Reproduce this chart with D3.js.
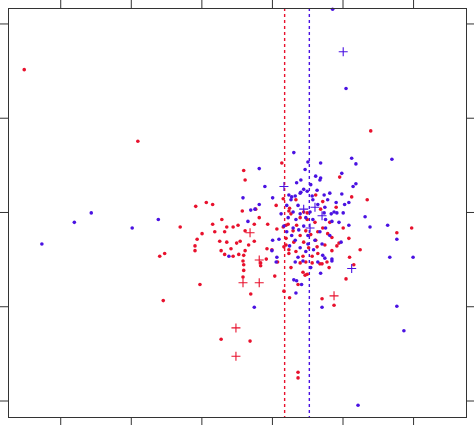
<!DOCTYPE html>
<html>
<head>
<meta charset="utf-8">
<script src="https://cdn.jsdelivr.net/npm/d3@7"></script>
<style>
html,body{margin:0;padding:0;background:#fff;}
svg{display:block;}
</style>
</head>
<body>
<svg id="chart" width="474" height="425"></svg>
<script>
// ---- data ----
const xTicks = [-3, -2, -1, 0, 1, 2];
const yTicks = [-2, -1, 0, 1, 2];

const redX = [-3.51,-1.90,-1.59,-1.52,-1.54,-1.02,-0.72,-0.31,-0.30,0.14,-0.40,-0.38,-0.93,-0.84,-1.08,-0.23,-0.42,0.06,-1.30,-0.71,
  -0.84,-0.64,-0.55,-0.48,-0.18,-0.25,-0.06,0.07,-0.99,-1.06,-0.81,-0.67,-0.38,-0.25,-0.74,-0.64,-0.50,-0.45,-0.33,-1.09,
  -1.09,-0.72,-0.58,-0.38,-0.47,-0.67,-0.07,0.00,-0.55,-0.40,-0.41,-0.16,-0.08,-0.16,-0.40,-0.40,-0.41,0.08,0.04,0.17,
  0.25,0.37,0.44,0.47,0.50,0.37,0.37,0.57,0.68,0.78,0.81,0.71,0.88,1.05,1.16,1.25,1.10,1.40,0.96,0.62,
  1.13,1.35,1.77,1.98,1.01,0.95,1.09,0.91,0.69,0.72,0.85,0.85,0.92,0.71,0.20,0.20,0.24,0.24,0.17,
  0.27,0.35,0.23,0.30,0.40,0.48,0.55,0.45,0.62,0.52,0.34,0.44,0.65,0.75,0.79,0.40,0.61,0.72,0.50,0.31,
  0.57,0.40,0.27,0.65,0.82,0.25,0.34,0.24,0.20,0.16,0.16,0.45,0.50,0.64,0.48];
const redY = [1.51,0.75,-0.47,-0.44,-0.94,-0.77,-1.35,-1.37,-0.87,0.52,0.44,0.34,0.10,0.08,0.06,0.03,0.01,0.07,-0.16,-0.08,
  -0.13,-0.16,-0.16,-0.14,-0.06,-0.13,-0.13,-0.18,-0.23,-0.29,-0.21,-0.21,-0.20,-0.31,-0.31,-0.32,-0.33,-0.31,-0.35,-0.36,
  -0.41,-0.41,-0.39,-0.41,-0.45,-0.45,-0.39,-0.40,-0.47,-0.46,-0.52,-0.54,-0.50,-0.57,-0.56,-0.62,-0.69,-0.53,-0.68,-0.84,
  -0.91,-0.77,-0.64,-0.67,-0.66,-1.70,-1.76,-0.54,-0.55,-0.53,-0.59,-0.92,-0.99,-0.71,-0.56,-0.40,-0.48,0.86,0.37,0.18,
  0.16,0.13,-0.22,-0.17,-0.17,-0.33,-0.28,0.05,0.03,0.11,-0.27,-0.41,-0.36,-0.55,-0.28,-0.35,-0.40,-0.44,-0.37,
  -0.02,-0.14,-0.13,-0.20,-0.25,-0.20,-0.24,-0.32,-0.30,-0.38,-0.42,-0.47,-0.44,-0.35,-0.23,-0.06,-0.11,-0.17,-0.01,-0.32,
  -0.47,-0.54,-0.59,-0.21,-0.11,0.04,0.13,0.01,-0.14,-0.16,0.14,0.00,-0.08,-0.37,-0.53];

const blueX = [0.86,1.05,-3.26,-2.80,-2.56,-1.98,-1.61,0.31,-0.18,-0.10,-0.41,0.01,-0.18,-0.30,-0.24,-0.34,0.01,0.10,-0.61,0.07,
  0.06,0.00,-0.25,0.31,0.35,0.42,0.34,0.69,0.44,0.85,0.71,1.77,1.87,1.22,1.13,1.19,1.70,0.69,0.51,0.69,
  0.68,0.99,1.19,1.15,0.99,0.82,0.74,1.09,1.03,0.91,1.32,1.39,1.64,1.77,1.67,2.00,0.88,0.84,0.92,0.74,
  1.01,0.95,0.85,1.09,0.45,0.50,0.41,0.98,0.85,0.75,0.72,
  0.27,0.33,0.37,0.30,0.23,0.34,0.40,0.48,0.54,0.58,0.65,0.75,0.79,0.57,0.64,0.30,0.38,0.45,0.51,0.61,
  0.68,0.76,0.82,0.33,0.25,0.40,0.48,0.59,0.65,0.55,0.37,0.28,0.21,0.41,0.55,0.62,0.47,0.58,0.33,0.51,
  0.71,0.76,0.17,0.21,0.13,0.28,0.40,0.24,0.35];
const blueY = [2.15,1.31,-0.34,-0.11,-0.01,-0.17,-0.08,0.63,0.46,0.27,0.15,0.15,0.08,0.02,0.03,-0.10,-0.30,-0.29,-0.47,-0.48,
  -0.53,-0.41,-1.01,-0.72,-0.73,-0.77,-0.86,-0.65,-0.52,-0.52,-1.01,-1.00,-1.26,-2.05,0.57,0.51,0.56,0.52,0.53,0.36,
  0.34,0.41,0.30,0.27,0.19,0.20,0.18,0.10,0.08,0.10,-0.05,-0.16,-0.14,-0.29,-0.48,-0.48,0.00,-0.02,-0.01,-0.01,
  -0.01,-0.11,-0.10,-0.14,0.24,0.22,0.21,-0.32,-0.50,-0.49,-0.46,
  0.13,0.17,0.07,0.00,-0.06,-0.08,-0.02,-0.06,0.00,-0.08,0.08,0.05,0.13,0.17,0.23,-0.17,-0.19,-0.15,-0.25,-0.30,
  -0.21,-0.17,-0.25,-0.30,-0.36,-0.38,-0.42,-0.40,-0.53,-0.59,-0.48,-0.25,0.07,0.34,0.29,0.38,0.45,0.13,-0.53,-0.34,
  -0.34,-0.08,-0.15,-0.21,-0.02,0.16,0.20,0.18,0.31];

const redPlusX = [-0.31,-0.18,-0.41,-0.18,-0.51,-0.51,0.88];
const redPlusY = [-0.22,-0.51,-0.75,-0.75,-1.23,-1.53,-0.89];
const bluePlusX = [1.01,0.17,1.13,0.45,0.61,0.71,0.54];
const bluePlusY = [1.70,0.27,-0.60,0.03,0.05,-0.04,-0.17];

const redMean = 0.18;
const blueMean = 0.53;

const redColor = "#e8112d";
const blueColor = "#4a12e2";

// ---- chart ----
const svg = d3.select("#chart");
const pLeft = 8, pRight = 466, pTop = 8, pBottom = 417;
const x = d3.scaleLinear().domain([-3.74, 2.75]).range([pLeft, pRight]);
const y = d3.scaleLinear().domain([-2.175, 2.164]).range([pBottom, pTop]);

const tickColor = "#333";
function styleAxis(g){
  g.select(".domain").remove();
  g.selectAll(".tick line").attr("stroke", tickColor);
  g.selectAll(".tick text").remove();
}
svg.append("g").attr("transform", `translate(0,${pTop})`)
  .call(d3.axisTop(x).tickValues(xTicks).tickSize(8).tickFormat(""))
  .call(styleAxis);
svg.append("g").attr("transform", `translate(0,${pBottom})`)
  .call(d3.axisBottom(x).tickValues(xTicks).tickSize(8).tickFormat(""))
  .call(styleAxis);
svg.append("g").attr("transform", `translate(${pLeft},0)`)
  .call(d3.axisLeft(y).tickValues(yTicks).tickSize(8).tickFormat(""))
  .call(styleAxis);
svg.append("g").attr("transform", `translate(${pRight},0)`)
  .call(d3.axisRight(y).tickValues(yTicks).tickSize(8).tickFormat(""))
  .call(styleAxis);

const plot = svg.append("g");

// dashed mean lines
[[redMean, redColor],[blueMean, blueColor]].forEach(([v,c]) => {
  plot.append("line")
    .attr("x1", x(v)).attr("x2", x(v))
    .attr("y1", pTop).attr("y2", pBottom)
    .attr("stroke", c).attr("stroke-width", 1.4)
    .attr("stroke-dasharray", "3,3");
});

function dots(xs, ys, color){
  plot.append("g").selectAll("circle")
    .data(xs.map((v,i)=>[v, ys[i]]))
    .join("circle")
    .attr("cx", d=>x(d[0])).attr("cy", d=>y(d[1]))
    .attr("r", 1.8).attr("fill", color);
}
dots(redX, redY, redColor);
dots(blueX, blueY, blueColor);

function pluses(xs, ys, color){
  const s = 4.5;
  plot.append("g").selectAll("path")
    .data(xs.map((v,i)=>[v, ys[i]]))
    .join("path")
    .attr("d", d => {
      const cx = x(d[0]), cy = y(d[1]);
      return `M${cx-s},${cy}H${cx+s}M${cx},${cy-s}V${cy+s}`;
    })
    .attr("stroke", color).attr("stroke-width", 1.1).attr("fill", "none");
}
pluses(redPlusX, redPlusY, redColor);
pluses(bluePlusX, bluePlusY, blueColor);

// frame
svg.append("rect")
  .attr("x", pLeft + 0.5).attr("y", pTop + 0.5)
  .attr("width", pRight - pLeft).attr("height", pBottom - pTop)
  .attr("fill", "none").attr("stroke", tickColor).attr("stroke-width", 1);
</script>
</body>
</html>
